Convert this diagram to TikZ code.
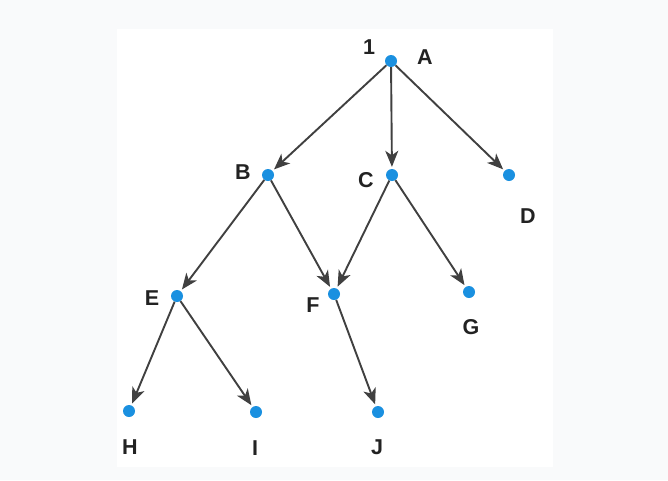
\documentclass[tikz,border=0pt]{standalone}
\usepackage{fontspec}
\setmainfont{Liberation Sans}
\usetikzlibrary{arrows.meta}
\definecolor{dotblue}{HTML}{1A90E0}
\definecolor{edgegray}{HTML}{404040}
\definecolor{outerbg}{HTML}{F9FAFB}
\definecolor{labcol}{HTML}{222222}
\tikzset{
  vtx/.style={circle, fill=dotblue, inner sep=0pt, minimum size=12pt},
  lab/.style={font=\fontsize{21.5}{23}\selectfont\bfseries, text=labcol, inner sep=0pt},
  edge/.style={draw=edgegray, line width=1.9pt, -{Stealth[length=16pt, width=13pt, inset=4.5pt]}, shorten >=2pt}
}
\begin{document}
\begin{tikzpicture}[x=1pt,y=-1pt]
\fill[outerbg] (0,0) rectangle (668,480);
\fill[white] (117,29) rectangle (553,467);
\useasboundingbox (0,0) rectangle (668,480);
% vertices
\node[vtx] (A) at (391,61) {};
\node[vtx] (B) at (268,175) {};
\node[vtx] (C) at (392,175) {};
\node[vtx] (D) at (509,175) {};
\node[vtx] (E) at (177,296) {};
\node[vtx] (F) at (334,294) {};
\node[vtx] (G) at (469,292) {};
\node[vtx] (H) at (129,411) {};
\node[vtx] (I) at (256,412) {};
\node[vtx] (J) at (378,412) {};
% labels
\node[lab] (l1) at (369,47) {1};
\node[lab] (lA) at (425,57) {A};
\node[lab] (lB) at (243,172) {B};
\node[lab] (lC) at (366,180) {C};
\node[lab] (lD) at (528,216) {D};
\node[lab] (lE) at (152,298) {E};
\node[lab] (lF) at (313,305) {F};
\node[lab] (lG) at (471,327) {G};
\node[lab] (lH) at (130,447) {H};
\node[lab] (lI) at (255,448) {I};
\node[lab] (lJ) at (377,447) {J};
% edges
\draw[edge] (A) -- (B);
\draw[edge] (A) -- (C);
\draw[edge] (A) -- (D);
\draw[edge] (B) -- (E);
\draw[edge] (B) -- (F);
\draw[edge] (C) -- (F);
\draw[edge] (C) -- (G);
\draw[edge] (E) -- (H);
\draw[edge] (E) -- (I);
\draw[edge] (F) -- (J);
\end{tikzpicture}
\end{document}
